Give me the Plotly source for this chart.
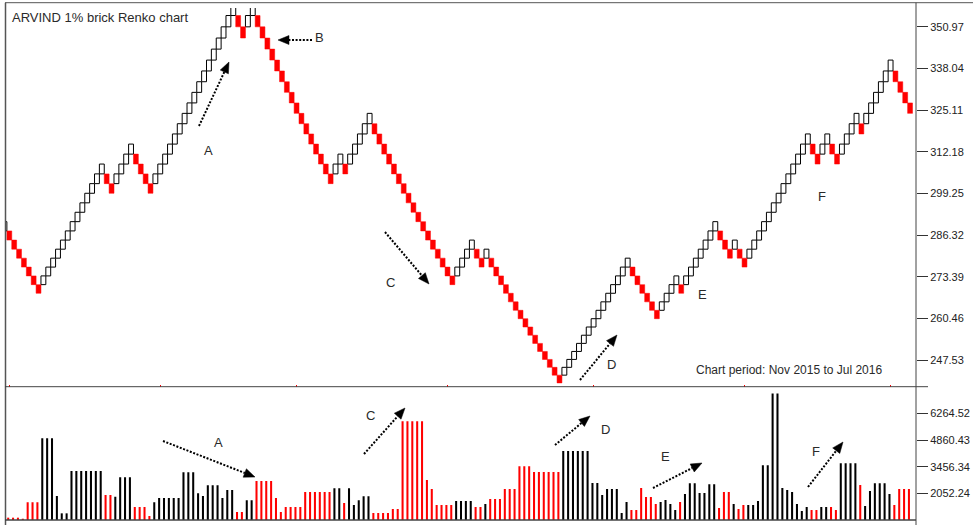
import math
import plotly.graph_objects as go

# ---------------- data ----------------
BASE_PRICE = 287.6          # price of level 0 of the 1% brick grid
BRICK_STEP = 1.01           # 1% bricks
FIRST_BRICK = "up"          # brick 0 (only a sliver visible at the left edge)
run_dirs = ["down", "up"] * 16 + ["down"]
run_lengths = [7, 13, 2, 4, 4, 17, 2, 2, 16, 2, 1, 5, 17, 4, 2, 1, 15, 14, 6, 4,
               1, 7, 3, 1, 2, 13, 2, 2, 2, 4, 1, 6, 4]

volumes = [
    1200, 771, 771, 771, 690, 1578, 1578, 1578, 4948, 4948,
    4948, 1912, 999, 999, 3228, 3228, 3228, 3228, 3228, 3228,
    3228, 1964, 1964, 1877, 2894, 2894, 2894, 1332, 1332, 1332,
    859, 1578, 1806, 1806, 1806, 1806, 1806, 3158, 3158, 3158,
    2052, 1912, 2473, 2473, 2473, 1806, 2228, 2228, 1069, 1069,
    1683, 1683, 2702, 2702, 2702, 2702, 1806, 1069, 1332, 1332,
    1332, 1332, 2122, 2122, 2122, 2122, 2122, 2122, 2315, 2315,
    1543, 2315, 1438, 1683, 1894, 1894, 1017, 1017, 1017, 1017,
    1227, 1227, 5843, 5843, 5843, 5843, 5843, 2754, 2280, 1438,
    1438, 1438, 1438, 1648, 1648, 1648, 1648, 1332, 1332, 1490,
    1754, 1754, 1754, 2280, 2280, 2280, 3474, 3474, 3474, 3175,
    3175, 3175, 3175, 3175, 3175, 4281, 4281, 4281, 4281, 4281,
    4281, 2596, 2596, 1964, 2280, 2280, 2280, 1017, 1596, 1174,
    1174, 2333, 1859, 1859, 1490, 1596, 1701, 1490, 1174, 1596,
    2017, 2579, 2579, 2070, 2070, 2526, 2526, 1280, 2122, 2122,
    1490, 1227, 1438, 1438, 1438, 1648, 3526, 3526, 7317, 7317,
    2333, 2228, 2122, 1490, 1122, 1332, 1174, 1174, 1332, 1332,
    1332, 1174, 3632, 3632, 3632, 3632, 2491, 1385, 2175, 2579,
    2579, 2579, 2017, 1438, 2280, 2280, 2280,
]

price_ticks = [247.53, 260.46, 273.39, 286.32, 299.25, 312.18, 325.11, 338.04, 350.97]
volume_ticks = [2052.24, 3456.34, 4860.43, 6264.52]
month_marks = [1, 32, 60, 91, 121, 152, 182]

PRICE_RANGE = [239.26, 356.77]
VOLUME_RANGE = [648.15, 7668.6]
X_RANGE = [0.32, 187.22]

# ---------------- build renko bricks ----------------
lo_lv, hi_lv, dirs = [0], [1], [FIRST_BRICK]
for d, n in zip(run_dirs, run_lengths):
    for _ in range(n):
        if d == "up":
            lo = hi_lv[-1]
            hi = lo + 1
        else:
            hi = lo_lv[-1]
            lo = hi - 1
        lo_lv.append(lo)
        hi_lv.append(hi)
        dirs.append(d)

lows = [BASE_PRICE * BRICK_STEP ** l for l in lo_lv]
highs = [BASE_PRICE * BRICK_STEP ** h for h in hi_lv]
idx = list(range(len(dirs)))

up_i = [i for i in idx if dirs[i] == "up"]
dn_i = [i for i in idx if dirs[i] == "down"]

fig = go.Figure()
fig.add_trace(go.Bar(
    x=up_i, y=[highs[i] - lows[i] for i in up_i], base=[lows[i] for i in up_i],
    width=1, marker=dict(color="white", line=dict(color="black", width=1)),
    xaxis="x", yaxis="y", showlegend=False, hoverinfo="skip"))
fig.add_trace(go.Bar(
    x=dn_i, y=[highs[i] - lows[i] for i in dn_i], base=[lows[i] for i in dn_i],
    width=1, marker=dict(color="#ff0000", line=dict(color="#ff0000", width=0.5)),
    xaxis="x", yaxis="y", showlegend=False, hoverinfo="skip"))

vol_colors = ["black" if d == "up" else "#ff0000" for d in dirs]
fig.add_trace(go.Bar(
    x=[i - 0.23 for i in idx], y=[v - VOLUME_RANGE[0] for v in volumes],
    base=VOLUME_RANGE[0], width=0.42,
    marker=dict(color=vol_colors, line=dict(width=0)),
    xaxis="x2", yaxis="y2", showlegend=False, hoverinfo="skip"))

# ---------------- layout helpers ----------------
W, H = 973, 525
ML, MR, MT, MB = 6, 57, 8, 5
PW, PH = W - ML - MR, H - MT - MB
SEP_Y = 386.7


def px(x):
    return (x - ML) / PW


def py(y):
    return (H - MB - y) / PH


split = py(SEP_Y)
axis_font = dict(family="Liberation Sans, Arial, sans-serif", size=11, color="#222")

fig.update_layout(
    width=W, height=H,
    margin=dict(l=ML, r=MR, t=MT, b=MB, pad=0),
    paper_bgcolor="white", plot_bgcolor="white",
    barmode="overlay",
    xaxis=dict(domain=[0, 1], range=X_RANGE, anchor="y", showgrid=False, zeroline=False,
               showticklabels=False, tickvals=month_marks, ticks="inside", ticklen=2,
               tickcolor="#ff0000", tickwidth=1, showline=False),
    xaxis2=dict(domain=[0, 1], range=X_RANGE, anchor="y2", matches="x", showgrid=False,
                zeroline=False, showticklabels=False, ticks="", showline=False),
    yaxis=dict(domain=[split, 1], range=PRICE_RANGE, side="right", anchor="x",
               tickvals=price_ticks, ticktext=[f"{t:.2f}" for t in price_ticks],
               ticks="outside", ticklen=11, tickcolor="#333", tickwidth=1,
               showgrid=False, zeroline=False, showline=False, tickfont=axis_font,
               automargin=False),
    yaxis2=dict(domain=[0, split], range=VOLUME_RANGE, side="right", anchor="x2",
                tickvals=volume_ticks, ticktext=[f"{t:.2f}" for t in volume_ticks],
                ticks="outside", ticklen=11, tickcolor="#333", tickwidth=1,
                showgrid=False, zeroline=False, showline=False, tickfont=axis_font,
                automargin=False),
)

shapes = []
line_col = "#444"
# frame lines
shapes.append(dict(type="line", xref="paper", yref="paper", x0=px(5), x1=px(973),
                   y0=py(2.7), y1=py(2.7), line=dict(color="#555", width=1)))
shapes.append(dict(type="line", xref="paper", yref="paper", x0=px(5.5), x1=px(5.5),
                   y0=py(2.7), y1=py(525), line=dict(color="#555", width=1.5)))
shapes.append(dict(type="line", xref="paper", yref="paper", x0=1, x1=1,
                   y0=py(2.7), y1=py(525), line=dict(color=line_col, width=1)))
shapes.append(dict(type="line", xref="paper", yref="paper", x0=px(5), x1=px(928),
                   y0=split, y1=split, line=dict(color=line_col, width=1)))
shapes.append(dict(type="line", xref="paper", yref="paper", x0=px(5), x1=1,
                   y0=py(520), y1=py(520), line=dict(color=line_col, width=1.5)))


def arrow(tail, tip, L=11, Wd=9):
    (tx, ty), (hx, hy) = tail, tip
    dx, dy = hx - tx, hy - ty
    n = math.hypot(dx, dy)
    ux, uy = dx / n, dy / n
    bx, by = hx - ux * L, hy - uy * L
    nx, ny = -uy, ux
    p1 = (bx + nx * Wd / 2, by + ny * Wd / 2)
    p2 = (bx - nx * Wd / 2, by - ny * Wd / 2)
    shapes.append(dict(type="line", xref="paper", yref="paper",
                       x0=px(tx), y0=py(ty), x1=px(bx), y1=py(by),
                       line=dict(color="black", width=2, dash="2px,1.6px")))
    path = (f"M {px(hx)},{py(hy)} L {px(p1[0])},{py(p1[1])} "
            f"L {px(p2[0])},{py(p2[1])} Z")
    shapes.append(dict(type="path", xref="paper", yref="paper", path=path,
                       fillcolor="black", line=dict(color="black", width=0.5)))


# price panel arrows
arrow((199, 126), (229, 62))
arrow((312, 40), (278, 40))
arrow((385, 232), (429, 284))
arrow((580, 380), (617, 335))
# volume panel arrows
arrow((163, 441), (255, 477))
arrow((364, 454), (405, 408))
arrow((555, 445), (590, 416))
arrow((653, 488), (702, 463))
arrow((808, 487), (843, 442))

fig.update_layout(shapes=shapes)

txt_font = dict(family="Liberation Sans, Arial, sans-serif", size=13, color="#2a2a2a")
annotations = [
    dict(text="ARVIND 1% brick Renko chart", x=px(10), y=py(17.5), xanchor="left",
         yanchor="middle", font=txt_font),
    dict(text="Chart period: Nov 2015 to Jul 2016", x=px(694), y=py(370), xanchor="left",
         yanchor="middle", font=dict(family="Liberation Sans, Arial, sans-serif", size=12,
                                     color="#2a2a2a")),
]
letters = [("A", 208, 150), ("B", 319, 37), ("C", 390, 282), ("D", 611, 364),
           ("E", 702, 294), ("F", 822, 196),
           ("A", 218, 442), ("C", 370, 415), ("D", 605, 429), ("E", 665, 456),
           ("F", 816, 451)]
for t, x, y in letters:
    annotations.append(dict(text=t, x=px(x), y=py(y), xanchor="center", yanchor="middle",
                            font=txt_font))
for a in annotations:
    a.update(xref="paper", yref="paper", showarrow=False)
fig.update_layout(annotations=annotations)

fig.write_html(
    "out.html",
    config={"displayModeBar": False},
    post_script="document.body.style.margin='0';document.body.style.padding='0';",
)
